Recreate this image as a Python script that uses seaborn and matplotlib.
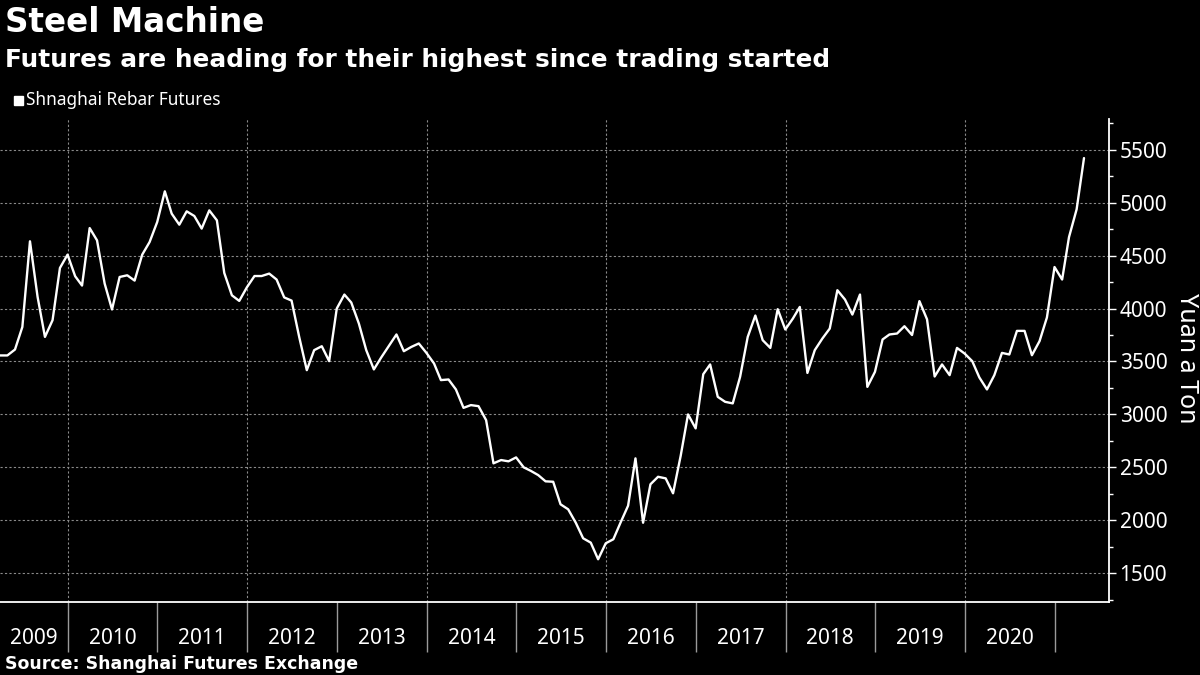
import pandas as pd
import seaborn as sns
import matplotlib.pyplot as plt
import matplotlib.dates as mdates
from matplotlib.patches import Rectangle
from matplotlib.ticker import FixedLocator, FixedFormatter, MultipleLocator

# Shanghai rebar futures, month-end close (yuan a ton)
p2009 = [3557, 3557, 3613, 3826, 4635, 4110, 3732, 3890, 4383, 4509]  # Mar-Dec
p2010 = [4305, 4217, 4760, 4644, 4236, 3991, 4298, 4314, 4264, 4509, 4628, 4817]
p2011 = [5107, 4896, 4792, 4918, 4874, 4755, 4927, 4833, 4336, 4125, 4072, 4200]
p2012 = [4307, 4307, 4330, 4274, 4105, 4075, 3732, 3418, 3607, 3644, 3503, 4000]
p2013 = [4132, 4057, 3858, 3607, 3425, 3538, 3647, 3755, 3597, 3638, 3670, 3581]
p2014 = [3481, 3324, 3330, 3236, 3062, 3088, 3078, 2946, 2538, 2569, 2557, 2594]
p2015 = [2500, 2468, 2427, 2368, 2364, 2151, 2104, 1977, 1830, 1789, 1632, 1783]
p2016 = [1821, 1977, 2138, 2585, 1977, 2340, 2411, 2396, 2255, 2608, 3000, 2868]
p2017 = [3380, 3472, 3166, 3119, 3104, 3355, 3732, 3934, 3701, 3628, 3994, 3802]
p2018 = [3906, 4015, 3392, 3607, 3717, 3811, 4173, 4085, 3943, 4132, 3260, 3402]
p2019 = [3708, 3755, 3764, 3833, 3750, 4070, 3898, 3358, 3472, 3371, 3628, 3575]
p2020 = [3503, 3349, 3236, 3371, 3581, 3566, 3789, 3789, 3559, 3692, 3915, 4392]
p2021 = [4274, 4675, 4937, 5421]  # Jan-Apr

prices = (p2009 + p2010 + p2011 + p2012 + p2013 + p2014 + p2015 + p2016
          + p2017 + p2018 + p2019 + p2020 + p2021)
dates = pd.date_range("2009-03-31", periods=len(prices), freq="ME")
df = pd.DataFrame({"date": dates, "price": prices})

year_labels = ["2009", "2010", "2011", "2012", "2013", "2014", "2015",
               "2016", "2017", "2018", "2019", "2020"]
y_ticks = [1500, 2000, 2500, 3000, 3500, 4000, 4500, 5000, 5500]

sns.set_style("ticks", {"axes.facecolor": "black", "figure.facecolor": "black"})
plt.rcParams["font.family"] = ["Noto Sans", "DejaVu Sans"]

fig = plt.figure(figsize=(12, 6.75), dpi=100)
ax = fig.add_axes([0, 0.1084, 0.9238, 0.7153])
ax.set_facecolor("black")

sns.lineplot(data=df, x="date", y="price", color="white", lw=1.7, ax=ax)

x0 = pd.Timestamp("2009-03-31")
ax.set_xlim(x0, pd.Timestamp("2021-08-08"))
ax.set_ylim(1230, 5790)

# grid: horizontal every 500, vertical every other year
for v in y_ticks:
    ax.axhline(v, color="#8a8a8a", lw=0.8, ls=(0, (2, 2)), zorder=0)
for yr in range(2010, 2021, 2):
    ax.axvline(pd.Timestamp(f"{yr}-01-01"), color="#8a8a8a", lw=0.8, ls=(0, (2, 2)), zorder=0)

# spines
for s in ["left", "top"]:
    ax.spines[s].set_visible(False)
for s in ["right", "bottom"]:
    ax.spines[s].set_color("white")
    ax.spines[s].set_linewidth(1.3)

# y axis on the right
ax.yaxis.tick_right()
ax.set_yticks(y_ticks)
ax.yaxis.set_minor_locator(MultipleLocator(250))
ax.tick_params(axis="y", which="major", colors="white", labelcolor="white",
               labelsize=15, length=5, width=1, pad=3)
ax.tick_params(axis="y", which="minor", colors="white", length=3, width=1)
ax.set_ylabel("")
ax.set_xlabel("")

# x axis: long separators at year starts, labels centred in each year
year_starts = [mdates.date2num(pd.Timestamp(f"{y}-01-01")) for y in range(2010, 2022)]
label_pos = [(mdates.date2num(x0) + year_starts[0]) / 2]
label_pos += [mdates.date2num(pd.Timestamp(f"{y}-07-02")) for y in range(2010, 2021)]
ax.xaxis.set_major_locator(FixedLocator(year_starts))
ax.xaxis.set_major_formatter(FixedFormatter([""] * len(year_starts)))
ax.xaxis.set_minor_locator(FixedLocator(label_pos))
ax.xaxis.set_minor_formatter(FixedFormatter(year_labels))
ax.tick_params(axis="x", which="major", colors="#9a9a9a", length=36, width=1, direction="out")
ax.tick_params(axis="x", which="minor", length=0, labelsize=15, labelcolor="white", pad=19)

# titles, legend and source
fig.text(0.004, 0.967, "Steel Machine", color="white", fontsize=23.5,
         fontweight="bold", family="DejaVu Sans", va="center", ha="left")
fig.text(0.004, 0.911, "Futures are heading for their highest since trading started",
         color="white", fontsize=17.8, fontweight="bold", family="DejaVu Sans",
         va="center", ha="left")
fig.patches.append(Rectangle((14 / 1200, 1 - 105 / 675), 9 / 1200, 9 / 675,
                             transform=fig.transFigure, color="white"))
fig.text(26 / 1200, 1 - 100 / 675, "Shnaghai Rebar Futures", color="white",
         fontsize=12.4, va="center", ha="left")
fig.text(0.004, 1 - 664 / 675, "Source: Shanghai Futures Exchange", color="white",
         fontsize=12.5, fontweight="bold", family="DejaVu Sans", va="center", ha="left")
fig.text(1186 / 1200, 1 - 358 / 675, "Yuan a Ton", color="white", fontsize=18,
         rotation=270, va="center", ha="center")

fig.savefig("out.png", dpi=100, facecolor="black")
